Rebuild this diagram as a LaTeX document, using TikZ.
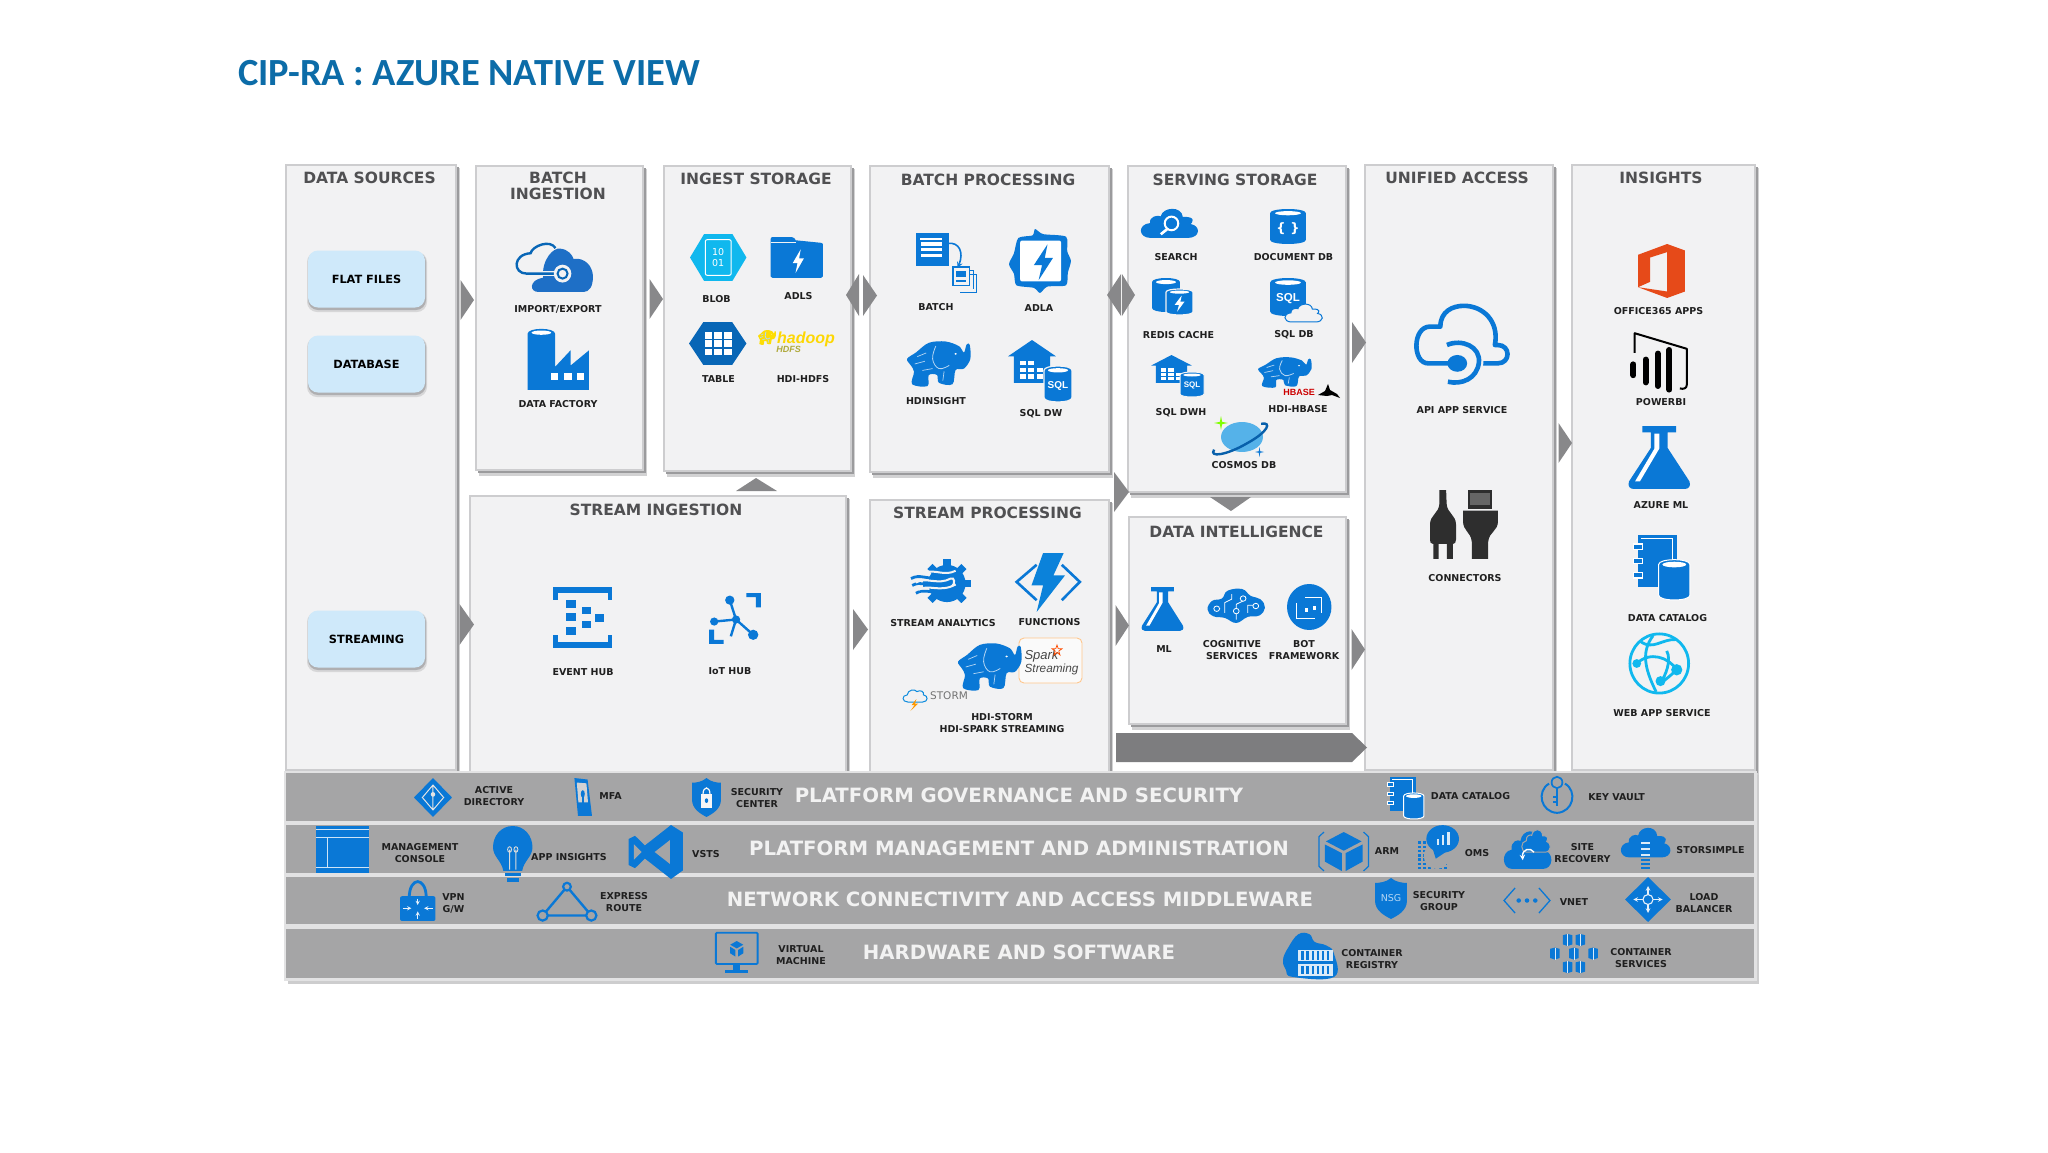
\documentclass[tikz,border=0pt]{standalone}
\usepackage{fontspec}
\setmainfont{DejaVu Sans}
\newfontfamily\titlef{Carlito}
\newfontfamily\libsf{Liberation Sans}
\definecolor{azb}{HTML}{0A78D6}
\definecolor{azd}{HTML}{1E6FC6}
\definecolor{cyanb}{HTML}{10B8EE}
\definecolor{pf}{HTML}{F2F2F3}
\definecolor{pedge}{HTML}{CDCDCF}
\definecolor{shad}{HTML}{9B9B9D}
\definecolor{bandc}{HTML}{A5A5A6}
\definecolor{bandgap}{HTML}{E2E2E3}
\definecolor{chev}{HTML}{88888A}
\definecolor{bigchev}{HTML}{7D7D7F}
\definecolor{headc}{HTML}{505052}
\definecolor{srcbox}{HTML}{CFE9FA}
\definecolor{titlec}{HTML}{0C6CA8}
\definecolor{officec}{HTML}{E64A19}
\tikzset{
 panelbox/.style={draw=pedge,line width=1.6pt,fill=pf,inner sep=0pt,outer sep=0pt},
 srcnode/.style={fill=srcbox,rounded corners=10pt,inner sep=0pt,minimum width=117pt,minimum height=57pt,font=\fontsize{11.3}{13}\selectfont\bfseries,text=black},
 head/.style={font=\fontsize{15.5}{16.5}\selectfont\bfseries,text=headc,align=center,inner sep=0pt},
 lab/.style={font=\fontsize{9.5}{12}\selectfont\bfseries,text=black!88,align=center,inner sep=0pt},
 bandtext/.style={font=\fontsize{19.7}{22}\selectfont\bfseries,text=white!95!black,inner sep=0pt},
 chevron/.style={fill=chev},
}
\newcommand\icon[6][azb]{\pgfmathsetmacro\icw{(#4-#2)*0.01}\pgfmathsetmacro\ich{(#5-#3)*0.01}%
 \begin{scope}[shift={(#2,#3)},x=\icw pt,y={-\ich pt},color=#1]#6\end{scope}}
\newcommand\panel[5]{\pgfmathsetmacro\pw{#4-#2}\pgfmathsetmacro\ph{#5-#3}\pgfmathsetmacro\pcx{(#4+#2)/2}\pgfmathsetmacro\pcy{(#5+#3)/2}%
 \fill[shad!45] (#2+3,#3+3) rectangle (#4+4,#5+6);
 \fill[shad] (#2+2,#3+2) rectangle (#4+2.5,#5+3);
 \node[panelbox,minimum width=\pw pt,minimum height=\ph pt] (#1) at (\pcx,\pcy) {};}
\newcommand\src[4]{\fill[shad!40,rounded corners=10pt] (307,#3-27) rectangle (427,#3+33);
 \fill[shad!80,rounded corners=10pt] (308,#3-27) rectangle (426,#3+31);
 \node[srcnode] (#1) at (366.5,#3) {#4};}
\def\cldp{(20,100) .. controls (-5,100) and (-7,58) .. (18,55) .. controls (18,25) and (50,15) .. (58,35) .. controls (72,22) and (90,35) .. (85,55) .. controls (107,60) and (105,100) .. (82,100) -- cycle}
\def\cldq{(18,100) .. controls (-6,100) and (-6,55) .. (16,52) .. controls (14,30) and (30,25) .. (35,30) .. controls (38,0) and (72,-5) .. (74,32) .. controls (100,30) and (90,52) .. (88,55) .. controls (106,60) and (106,100) .. (82,100) -- cycle}
\def\boltp{(62,0) -- (22,58) -- (46,58) -- (36,100) -- (78,38) -- (54,38) -- cycle}
\def\hexp{(0,50) -- (25,0) -- (75,0) -- (100,50) -- (75,100) -- (25,100) -- cycle}
\def\shieldp{(50,0) .. controls (65,10) and (85,12) .. (100,12) -- (100,55) .. controls (100,80) and (70,92) .. (50,100) .. controls (30,92) and (0,80) .. (0,55) -- (0,12) .. controls (15,12) and (35,10) .. (50,0) -- cycle}
\def\cylp{(0,12) .. controls (0,-4) and (100,-4) .. (100,12) -- (100,88) .. controls (100,104) and (0,104) .. (0,88) -- cycle}
\newcommand\Cyl{\fill \cylp; \fill[white] (50,12) ellipse[x radius=36,y radius=6];}
\newcommand\Flask{\fill (22,0) -- (78,0) -- (78,10) -- (64,10) -- (64,35) -- (100,88) .. controls (103,96) and (98,100) .. (92,100) -- (8,100) .. controls (2,100) and (-3,96) .. (0,88) -- (36,35) -- (36,10) -- (22,10) -- cycle;
 \fill[white] (42,12) -- (50,12) -- (50,36) -- (18,88) -- (10,88) -- (42,36) -- cycle;}
\newcommand\House{\fill (50,0) -- (100,38) -- (88,38) -- (88,100) -- (12,100) -- (12,38) -- (0,38) -- cycle;
 \foreach \xa/\ya in {24/48,42/48,24/64,42/64,60/64,24/80,42/80,60/80}{\fill[white] (\xa,\ya) rectangle ++(13,11);}}
\newcommand\Elephant{\fill plot[smooth cycle,tension=.55] coordinates {(0,39)(14,25)(34,4)(60,1)(81,11)(89,25)(93,8)(98,8)(99,39)(89,60)(76,63)(71,94)(50,91)(47,74)(34,74)(32,98)(8,94)(11,67)(6,53)};
 \draw[white!70!azb,line width=.8pt] plot[smooth,tension=.7] coordinates {(45,11)(40,39)(50,60)(66,53)};
 \draw[white!70!azb,line width=.7pt] (16,34) -- (30,26) (12,50) -- (28,44) (24,64) -- (40,60) (58,66) -- (56,86);
 \fill[white] (76,28) circle[radius=2];}
\newcommand\DCat{\fill (8,0) rectangle (78,80);
 \draw[white,line width=.9pt] (14,6) -- (70,6) -- (70,38);
 \foreach \ya in {18,40,62}{\fill[white] (0,\ya-5) rectangle (18,\ya+5); \fill (2,\ya-3) rectangle (16,\ya+3);}
 \begin{scope}[shift={(45,38)},xscale=.55,yscale=.62]
 \draw[white,line width=1pt,fill=azb] \cylp; \fill[white] (50,12) ellipse[x radius=38,y radius=7];
 \end{scope}}
\begin{document}
\begin{tikzpicture}[x=1pt,y=-1pt]
\useasboundingbox (0,0) rectangle (2048,1152);
\fill[white] (0,0) rectangle (2048,1152);
\node[font=\fontsize{38.4}{40}\selectfont\titlef\bfseries,text=titlec,anchor=west,inner sep=0pt] (title) at (238,73) {CIP-RA : AZURE NATIVE VIEW};

% panels
\panel{ds}{286}{165}{456}{770}
\panel{bi}{476}{166}{643}{470}
\panel{is}{664}{166}{851}{471}
\panel{bp}{870}{166}{1109}{472}
\panel{ss}{1128}{166}{1346}{492}
\panel{ua}{1365}{165}{1553}{770}
\panel{in}{1572}{165}{1755}{770}
\panel{si}{470}{496}{846}{772}
\panel{sp}{870}{500}{1109}{772}
\panel{di}{1129}{517}{1346}{724}

% chevrons
\fill[chevron] (460.5,280) -- (474,300) -- (460.5,320) -- cycle;
\fill[chevron] (649.5,279) -- (663,299) -- (649.5,319) -- cycle;
\fill[chevron] (859,274) -- (846,295) -- (859,316) -- cycle;
\fill[chevron] (863,275) -- (877,295.5) -- (863,316) -- cycle;
\fill[chevron] (1121,274) -- (1107,295) -- (1121,316) -- cycle;
\fill[chevron] (1122,274) -- (1135,295) -- (1122,316) -- cycle;
\fill[chevron] (1352,322) -- (1366,342.5) -- (1352,363) -- cycle;
\fill[chevron] (1558.5,423) -- (1572,443) -- (1558.5,463) -- cycle;
\fill[chevron] (736,491) -- (756,478) -- (777,491) -- cycle;
\fill[chevron] (1114,472) -- (1129,492) -- (1114,512) -- cycle;
\fill[chevron] (1210,497) -- (1251,497) -- (1231,511) -- cycle;
\fill[chevron] (459.5,604) -- (474,624.5) -- (459.5,645) -- cycle;
\fill[chevron] (853,609) -- (868,629.5) -- (853,650) -- cycle;
\fill[chevron] (1115.5,605) -- (1129,625.5) -- (1115.5,646) -- cycle;
\fill[chevron] (1351.5,629) -- (1365,649.5) -- (1351.5,670) -- cycle;
\fill[bigchev] (1116,733) -- (1352,733) -- (1367,747.5) -- (1352,762) -- (1116,762) -- cycle;

% sources
\src{ff}{}{279}{FLAT FILES}
\src{db}{}{364}{DATABASE}
\src{st}{}{639}{STREAMING}

% headings
\node[head] (h1) at (369.5,178) {DATA SOURCES};
\node[head] (h2) at (558,186) {BATCH\\INGESTION};
\node[head] (h3) at (756,179) {INGEST STORAGE};
\node[head] (h4) at (988,180) {BATCH PROCESSING};
\node[head] (h5) at (1235,180) {SERVING STORAGE};
\node[head] (h6) at (1457,178) {UNIFIED ACCESS};
\node[head] (h7) at (1661,178) {INSIGHTS};
\node[head] (h8) at (656,510) {STREAM INGESTION};
\node[head] (h9) at (987.5,513) {STREAM PROCESSING};
\node[head] (h10) at (1236.5,532) {DATA INTELLIGENCE};

% bands
\fill[shad!50] (288,775) rectangle (1759,984);
\fill[bandgap] (284,771) rectangle (1757,981);
\node[fill=bandc,inner sep=0pt,minimum width=1468pt,minimum height=48pt] (b1) at (1020,797) {};
\node[fill=bandc,inner sep=0pt,minimum width=1468pt,minimum height=48pt] (b2) at (1020,849) {};
\node[fill=bandc,inner sep=0pt,minimum width=1468pt,minimum height=47pt] (b3) at (1020,900.5) {};
\node[fill=bandc,inner sep=0pt,minimum width=1468pt,minimum height=49pt] (b4) at (1020,953.5) {};
\node[bandtext] (t1) at (1019,795) {PLATFORM GOVERNANCE AND SECURITY};
\node[bandtext] (t2) at (1019,848) {PLATFORM MANAGEMENT AND ADMINISTRATION};
\node[bandtext] (t3) at (1020,899) {NETWORK CONNECTIVITY AND ACCESS MIDDLEWARE};
\node[bandtext] (t4) at (1019,952) {HARDWARE AND SOFTWARE};

% ---- labels
\foreach \lx/\ly/\lt in {
 558/309/IMPORT\slash EXPORT, 558/404/DATA FACTORY,
 716.5/299/BLOB, 798.5/296/ADLS, 718.5/379/TABLE, 803/379/HDI-HDFS,
 936/307/BATCH, 1039/308/ADLA, 936/401/HDINSIGHT, 1041/414/SQL DW,
 1176/257/SEARCH, 1293.5/257/DOCUMENT DB, 1178.5/335/REDIS CACHE, 1294/335/SQL DB,
 1181/413/SQL DWH, 1298/409/HDI-HBASE, 1244/465/COSMOS DB,
 1462/410/API APP SERVICE, 1465/578/CONNECTORS,
 1658.5/311/OFFICE365 APPS, 1661/402/POWERBI, 1661/505/AZURE ML, 1667.5/618/DATA CATALOG, 1662/713/WEB APP SERVICE,
 583/672/EVENT HUB, 730/671/IoT HUB, 943/623/STREAM ANALYTICS, 1049.5/622/FUNCTIONS,
 1002/723/HDI-STORM\\HDI-SPARK STREAMING, 1164/649/ML, 1232/650/COGNITIVE\\SERVICES, 1304/650/BOT\\FRAMEWORK,
 494/796/ACTIVE\\DIRECTORY, 610.5/796/MFA, 757/798/SECURITY\\CENTER, 1470.5/796/DATA CATALOG, 1616.5/797/KEY VAULT,
 420/853/MANAGEMENT\\CONSOLE, 569/857/APP INSIGHTS, 706/854/VSTS, 1387/851/ARM, 1477/853/OMS, 1582.5/853/SITE\\RECOVERY, 1710.5/850/STORSIMPLE,
 453.5/903/VPN\\G\slash W, 624/902/EXPRESS\\ROUTE, 1439/901/SECURITY\\GROUP, 1574/902/VNET, 1704/903/LOAD\\BALANCER,
 801/955/VIRTUAL\\MACHINE, 1372/959/CONTAINER\\REGISTRY, 1641/958/CONTAINER\\SERVICES}{
 \node[lab] at (\lx,\ly) {\lt};
}

% ---- icons
% import/export
\icon[azd]{515}{241}{593}{292}{
 \fill (30,100) .. controls (18,100) and (18,76) .. (36,72) .. controls (34,35) and (50,12) .. (58,15) .. controls (68,16) and (74,28) .. (75,35) .. controls (90,32) and (100,50) .. (100,70) .. controls (100,90) and (95,100) .. (88,100) -- cycle;
 \draw[pf,line width=4.6pt] (15,64) -- (52,64);
 \draw[pf,line width=5pt] (52,14) .. controls (47,6) and (42,4) .. (38,4);
 \draw[azb!85!black,line width=2.4pt] (52,14) .. controls (45,-4) and (22,10) .. (20,24) .. controls (-3,26) and (-3,64) .. (15,64) -- (54,64);
 \draw[pf,line width=5pt] (61,64) ellipse[x radius=8,y radius=12.5];
 \draw[azb!85!black,line width=2pt,fill=pf] (61,64) ellipse[x radius=6.4,y radius=9.8];
}
% data factory
\icon{527.5}{329}{589}{390}{
 \fill (0,8) .. controls (0,-3) and (45,-3) .. (45,8) -- (45,62) -- (70,35) -- (70,60) -- (100,35) -- (100,100) -- (0,100) -- cycle;
 \fill[white] (22.5,6) ellipse[x radius=16,y radius=3.5];
 \fill[white] (38,72) rectangle (50,84); \fill[white] (60,72) rectangle (72,84); \fill[white] (80,72) rectangle (92,84);
}
% blob
\icon[cyanb]{690}{234}{746.5}{281}{
 \fill \hexp; \draw[white,line width=1pt,rounded corners=2pt] (27,12) rectangle (73,88);
 \node[white,font=\fontsize{9.5}{11}\selectfont,align=center,inner sep=0pt] at (50,50) {10\\01};
}
% adls
\icon{770.5}{237}{823}{278}{
 \fill (0,6) .. controls (0,2) and (2,0) .. (4,0) -- (40,0) .. controls (44,0) and (47,4) .. (48,8) -- (95,14) .. controls (98,14) and (100,16) .. (100,18) -- (100,96) -- (96,100) -- (4,100) -- (0,96) -- cycle;
 \draw[pf,line width=.7pt] (0,12) -- (48,12);
 \begin{scope}[shift={(34,30)},xscale=.38,yscale=.58]\fill[white] \boltp;\end{scope}
}
% table
\icon[azb!85!black]{689}{322}{746.5}{365}{
 \fill \hexp;
 \foreach \xa in {27,44,61}{\foreach \ya in {24,43,62}{\fill[white] (\xa,\ya) rectangle ++(13,15);}}
}
% hadoop
\icon[yellow!80!orange]{758}{330}{776}{345}{\Elephant}
\node[font=\fontsize{16}{17}\selectfont\libsf\bfseries\itshape,text=yellow!75!orange,inner sep=0pt] (hadoopt) at (806,339) {hadoop};
\node[font=\fontsize{9}{10}\selectfont\libsf\bfseries\itshape,text=yellow!65!black,inner sep=0pt] (hdfst) at (788.5,349) {HDFS};
% batch
\icon{916}{233}{949}{266}{
 \fill (0,0) rectangle (100,100); \foreach \ya in {28,46,64}{\fill[white] (14,\ya) rectangle (78,\ya+10);}
 \fill[white] (12,14) rectangle (80,20);
}
\icon{948}{242}{964}{268}{\draw[line width=1.6pt,->,>=stealth] (0,5) .. controls (70,0) and (100,40) .. (60,100);}
\icon{953}{267}{977}{293}{
 \fill[pf] (0,0) rectangle (100,100);
 \draw[line width=1pt] (30,30) -- (100,30) -- (100,100) -- (30,100);
 \draw[line width=1pt] (15,15) -- (85,15) -- (85,85);
 \draw[line width=1.4pt,fill=pf] (0,0) rectangle (68,72);
 \fill (12,14) rectangle (56,38); \fill (12,50) rectangle (56,58);
}
% adla
\icon{1009}{229}{1071}{293}{
 \fill plot[smooth cycle,tension=.4] coordinates {(15,14)(38,10)(42,0)(55,8)(92,12)(94,35)(100,50)(95,68)(92,88)(62,90)(50,100)(40,92)(12,88)(8,70)(0,55)(8,38)};
 \fill[white,rounded corners=2pt] (18,18) rectangle (84,82);
 \begin{scope}[shift={(28,24)},xscale=.55,yscale=.56]\fill \boltp;\end{scope}
}
% hdinsight
\icon{907}{341}{971}{387}{\Elephant}
% sql dw
\icon{1008}{340}{1056}{383}{\House}
\icon{1044}{366}{1072}{402}{\draw[pf,line width=1.2pt,fill=azb] \cylp; \fill[white] (50,12) ellipse[x radius=36,y radius=6];
 \node[white,font=\fontsize{10}{11}\selectfont\libsf\bfseries,inner sep=0pt] at (50,55) {SQL};}
% search
\icon{1141}{207}{1197.5}{238}{\fill \cldq;
 \draw[white,line width=2pt] (54,53) ellipse[x radius=12,y radius=22]; \draw[white,line width=2.6pt] (46,72) -- (35,88);}
% document db
\icon{1270}{209}{1306}{244}{\Cyl \node[white,font=\fontsize{13}{14}\selectfont\bfseries,inner sep=0pt] at (50,56) {\{ \}};}
% redis
\icon{1152}{278}{1180}{312}{\Cyl}
\icon{1166}{289}{1193}{315}{\draw[pf,line width=1.2pt,fill=azb] \cylp; \fill[white] (50,12) ellipse[x radius=36,y radius=6];
 \begin{scope}[shift={(18,25)},xscale=.65,yscale=.62]\fill[white] \boltp;\end{scope}}
% sql db
\icon{1270}{278}{1306}{316}{\Cyl \node[white,font=\fontsize{11.5}{12}\selectfont\libsf\bfseries,inner sep=0pt] at (50,54) {SQL};}
\icon{1285}{303}{1322}{322}{\draw[line width=1pt,fill=pf] \cldq;}
% sql dwh
\icon{1151}{355}{1192}{383}{\House}
\icon{1180}{372}{1204}{397}{\draw[pf,line width=1pt,fill=azb] \cylp; \fill[white] (50,12) ellipse[x radius=36,y radius=6];
 \node[white,font=\fontsize{8}{9}\selectfont\libsf\bfseries,inner sep=0pt] at (50,55) {SQL};}
% hbase
\icon{1258}{357}{1312}{388}{\Elephant}
\node[font=\fontsize{9}{10}\selectfont\libsf\bfseries,text=red!80!black,inner sep=0pt] (hbaset) at (1299,392) {HBASE};
\fill[black] (1318,395) -- (1325,391) -- (1328,384) -- (1330,390) -- (1337,394) -- (1340,398) -- (1332,395) -- (1327,396) -- cycle;
% cosmos
\icon[azb!60!cyanb!70!white]{1221}{422}{1263}{452}{\fill (50,50) ellipse[x radius=50,y radius=50];}
\icon[azb!80!black]{1213}{420}{1269}{458}{\draw[line width=2.4pt] (86,10) .. controls (105,4) and (100,30) .. (60,62) .. controls (25,92) and (-8,100) .. (2,78);}
\icon[green!50!yellow]{1214}{416}{1228}{430}{\fill (50,0) -- (58,42) -- (100,50) -- (58,58) -- (50,100) -- (42,58) -- (0,50) -- (42,42) -- cycle;}
\icon{1255}{447}{1264}{457}{\fill (50,0) -- (58,42) -- (100,50) -- (58,58) -- (50,100) -- (42,58) -- (0,50) -- (42,42) -- cycle;}
% api
\icon{1415}{305}{1509}{385}{
 \draw[line width=4.6pt,line join=round] (39,73) -- (14,73) .. controls (-3,73) and (-3,27) .. (16,27) -- (27,27) .. controls (27,8) and (40,1) .. (52,1) .. controls (72,1) and (90,20) .. (85,50) -- (88,50) .. controls (102,50) and (102,73) .. (88,73) -- (66,73);
 \draw[pf,line width=9pt] (34,50) .. controls (50,42) and (70,52) .. (68,72) .. controls (66,92) and (50,100) .. (35,96);
 \draw[line width=4.6pt] (34,50) .. controls (50,42) and (70,52) .. (68,72) .. controls (66,92) and (50,100) .. (35,96);
 \fill (45,73) circle[radius=10.5];
}
% connectors
\icon[black!82]{1430}{490}{1456}{559}{
 \fill (36,0) -- (62,0) -- (64,20) .. controls (66,34) and (100,36) .. (100,50) -- (100,72) .. controls (100,76) and (95,78) .. (90,78) -- (88,78) -- (88,100) -- (65,100) -- (65,78) -- (33,78) -- (33,100) -- (13,100) -- (13,78) -- (10,78) .. controls (3,78) and (0,76) .. (0,72) -- (0,50) .. controls (0,36) and (34,34) .. (36,20) -- cycle;
}
\icon[black!82]{1463}{490}{1498}{559}{
 \fill (15,0) rectangle (84,27);
 \fill[black!60] (21,5) rectangle (78,22);
 \fill (0,30) -- (100,30) -- (100,45) .. controls (100,60) and (75,60) .. (72,75) -- (72,100) -- (25,100) -- (25,75) .. controls (22,60) and (0,60) .. (0,45) -- cycle;
}
% office
\icon[officec]{1638}{244}{1685}{298}{
 \fill (0,20) -- (62,0) -- (100,12) -- (100,88) -- (62,100) -- (0,80) -- (62,88) -- (62,15) -- (26,25) -- (26,70) -- (0,80) -- cycle;
}
% powerbi
\icon[black]{1630}{332}{1688}{392}{
 \draw[line width=2pt,line join=round] (8,35) -- (8,2) -- (98,28) -- (98,88) .. controls (98,94) and (92,96) .. (86,94);
 \draw[line width=6pt,line cap=round] (6,54) -- (6,72) (27,46) -- (27,84) (48,36) -- (48,90) (68,30) -- (68,96);
}
% azure ml
\icon{1629}{426}{1689.5}{489}{\Flask}
% data catalog
\icon{1633}{535}{1690}{600}{\DCat}
% web app
\icon[cyanb]{1628}{632}{1690.5}{695}{
 \draw[line width=2.8pt] (50,50) circle[radius=47];
 \draw[line width=2.8pt] (20,15) .. controls (40,30) and (55,10) .. (78,12) (14,50) .. controls (35,30) and (65,40) .. (78,60) .. controls (65,72) and (55,80) .. (52,80) (40,6) .. controls (22,30) and (25,55) .. (45,95) (62,30) .. controls (70,45) and (60,70) .. (52,80);
 \fill (14,50) circle[radius=7]; \fill (78,60) circle[radius=9]; \fill (52,78) circle[radius=8];
}
% ml
\icon{1142}{587}{1183}{631}{\Flask}
% cognitive
\icon{1207.5}{589}{1265}{623}{
 \fill plot[smooth cycle,tension=.7] coordinates {(0,60)(8,35)(25,28)(35,5)(60,0)(75,20)(92,30)(100,55)(90,78)(70,82)(50,100)(30,85)(10,80)};
 \draw[white,line width=.8pt] (30,70) -- (30,40) -- (42,30) -- (42,15) (50,90) -- (50,45) (50,45) -- (62,35) (70,70) -- (70,48) -- (88,48) (14,58) -- (22,58);
 \draw[white,line width=.8pt,fill=azb] (16,58) ellipse[x radius=5,y radius=8] (62,28) ellipse[x radius=5,y radius=8] (50,65) ellipse[x radius=5,y radius=8] (84,50) ellipse[x radius=5,y radius=8];
}
% bot
\icon{1287}{584}{1331.5}{630}{
 \fill (50,50) circle[radius=50];
 \draw[white,line width=1.1pt] (22,42) -- (22,75) -- (62,75) (40,30) -- (78,30) -- (78,62);
 \fill[white] (40,52) rectangle (47,60); \fill[white] (58,48) rectangle (65,56);
}
% event hub
\icon{553}{587}{612.5}{648}{
 \fill (0,0) rectangle (100,10); \fill (0,10) rectangle (8,22); \fill (92,10) rectangle (100,22);
 \fill (0,90) rectangle (100,100); \fill (0,78) rectangle (8,90); \fill (92,78) rectangle (100,90);
 \foreach \xa/\ya in {22/22,22/43,22/66,48/33,48/55,70/45}{\fill (\xa,\ya) rectangle ++(16,12);}
}
% iot
\icon{709}{593}{761}{644}{
 \fill (72,0) -- (100,0) -- (100,28) -- (90,28) -- (90,8) -- (72,8) -- cycle;
 \fill (0,72) -- (10,72) -- (10,92) -- (28,92) -- (28,100) -- (0,100) -- cycle;
 \draw[line width=2.4pt] (40,14) -- (52,52) -- (10,56) (52,52) -- (85,82) (52,52) -- (42,85);
 \fill (40,14) circle[radius=9]; \fill (10,56) circle[radius=8]; \fill (85,82) circle[radius=10]; \fill (52,52) circle[radius=8];
}
% gear
\icon{911}{558}{973}{607}{
 \fill (58,52) ellipse[x radius=30,y radius=38];
 \foreach \a in {-90,-45,0,45,90,135,225,-135}{\fill[shift={(58,52)},rotate=\a] (-3.6pt,14pt) rectangle (3.6pt,24pt);}
 \draw[azb,line width=2.8pt] (0,42) .. controls (14,32) and (26,44) .. (40,40) (2,56) .. controls (16,46) and (26,58) .. (40,54) (8,72) .. controls (20,62) and (30,72) .. (42,68);
 \draw[pf,line width=2pt] (8,50) .. controls (24,38) and (44,56) .. (64,42) .. controls (70,38) and (72,52) .. (66,58);
 \draw[pf,line width=2pt] (12,65) .. controls (28,52) and (46,72) .. (72,54);
 \draw[pf,line width=2pt] (22,30) .. controls (38,22) and (54,38) .. (72,26);
}
% functions
\icon{1016}{553}{1080.5}{612}{
 \draw[line width=2.6pt] (32,20) -- (1,49) -- (32,80) (71,20) -- (99,49) -- (71,80);
 \fill[azb!85!cyanb] (42,0) -- (74,0) -- (58,38) -- (76,38) -- (32,100) -- (42,55) -- (24,55) -- cycle;
}
% spark
\node[draw=orange!45,fill=white!60!pf,line width=.9pt,rounded corners=5pt,minimum width=63pt,minimum height=45pt,inner sep=0pt] (spark) at (1050.5,660.5) {};
\node[font=\fontsize{13}{14}\selectfont\libsf\itshape,text=black!72,inner sep=0pt] (sparkt) at (1041.5,656.5) {Spark};
\node[font=\fontsize{11.8}{13}\selectfont\libsf\itshape,text=black!72,inner sep=0pt] (streamt) at (1051.5,669.5) {Streaming};
\icon[orange!60!red]{1052}{645}{1062}{655}{\draw[line width=.7pt] (50,0) -- (62,36) -- (100,38) -- (68,60) -- (80,100) -- (50,74) -- (20,100) -- (32,60) -- (0,38) -- (38,36) -- cycle;}
\icon{958}{643}{1022}{691}{\Elephant}
% storm
\icon[azb!70!cyanb]{903}{686}{927}{702}{\draw[line width=1pt] \cldp;}
\icon[orange!80!yellow]{908}{699}{920}{711}{\fill (70,0) -- (30,50) -- (55,50) -- (20,100) -- (85,38) -- (58,38) -- cycle;}
\node[font=\fontsize{10.5}{12}\selectfont,text=black!55,inner sep=0pt] (stormt) at (949,696) {STORM};

% ---- band icons
% active directory
\icon{414}{778}{452}{817}{
 \fill (50,0) -- (100,50) -- (50,100) -- (0,50) -- cycle;
 \draw[bandc!30!white,line width=1pt] (50,18) -- (78,50) -- (50,82) -- (22,50) -- cycle (50,18) -- (50,82);
 \fill[bandc!30!white] (50,42) circle[radius=6];
}
% mfa
\icon{572}{778}{592}{816}{
 \fill (12,0) -- (78,4) -- (100,100) -- (30,100) -- cycle;
 \fill[bandc!50!white] (24,12) -- (72,14) -- (80,64) -- (32,64) -- cycle;
 \fill (54,42) circle[radius=10]; \fill (50,42) rectangle (60,78);
}
% security center
\icon{692}{778}{721}{817}{
 \fill \shieldp;
 \fill[white!90!bandc] (30,42) rectangle (70,76);
 \draw[white!90!bandc,line width=1.2pt] (38,42) .. controls (38,20) and (62,20) .. (62,42);
 \fill (50,58) circle[radius=6];
}
% data catalog band
\icon{1387}{777}{1424}{819}{\DCat}
% key vault
\icon{1539}{776}{1575}{814}{
 \draw[line width=2pt] (28,20) .. controls (-8,40) and (5,95) .. (50,97) .. controls (95,95) and (108,40) .. (72,20);
 \draw[line width=1.7pt] (50,17) circle[radius=15];
 \draw[line width=2.2pt] (50,32) -- (50,78) (50,55) -- (38,55) (50,68) -- (38,68);
}
% management console
\icon{316}{826}{369}{873}{
 \fill (0,0) rectangle (100,100);
 \draw[white!80!azb,line width=.9pt] (0,8) -- (100,8) (0,25) -- (100,25) (0,88) -- (100,88) (22,25) -- (22,88);
}
% app insights
\icon{493}{826}{532.5}{882}{
 \fill (50,0) .. controls (80,0) and (100,18) .. (100,38) .. controls (100,55) and (78,62) .. (74,80) -- (26,80) .. controls (22,62) and (0,55) .. (0,38) .. controls (0,18) and (20,0) .. (50,0) -- cycle;
 \fill (30,84) rectangle (70,90); \fill (35,93) rectangle (65,100);
 \draw[bandc!40!white,line width=.9pt] (42,78) -- (42,42) (58,78) -- (58,42) (42,42) circle[radius=5] (58,42) circle[radius=5];
}
% vsts
\icon{628.5}{825}{683}{879}{
 \fill (78,0) -- (100,14) -- (100,84) -- (78,100) -- (30,62) -- (12,80) -- (0,74) -- (0,26) -- (12,20) -- (30,38) -- cycle;
 \fill[bandc] (76,28) -- (48,50) -- (76,72) -- cycle;
 \fill[bandc] (10,36) -- (24,50) -- (10,64) -- cycle;
}
% arm
\icon{1319}{832}{1368.5}{871}{
 \draw[line width=1.2pt] (10,0) -- (0,12) -- (0,88) -- (10,100) (90,0) -- (100,12) -- (100,88) -- (90,100);
 \fill (50,0) -- (86,24) -- (50,48) -- (14,24) -- cycle;
 \fill (12,32) -- (46,54) -- (46,100) -- (12,76) -- cycle;
 \fill (88,32) -- (54,54) -- (54,100) -- (88,76) -- cycle;
}
% oms
\icon{1416}{826}{1459}{869}{
 \foreach \xa in {5,17,...,65}{\foreach \ya in {55,65,75,85,95}{\fill (\xa,\ya) rectangle ++(7,6);}}
 \foreach \ya in {36,46}{\fill (5,\ya) rectangle ++(7,6); \fill (17,\ya) rectangle ++(7,6);}
 \fill[bandc] (48,70) circle[radius=30];
 \fill (62,30) ellipse[x radius=38,y radius=32]; \fill (30,25) -- (70,60) -- (46,76) -- cycle;
 \fill[white!85!azb] (48,30) rectangle (54,44); \fill[white!85!azb] (60,22) rectangle (66,44); \fill[white!85!azb] (72,15) rectangle (78,44);
}
% site recovery
\icon{1504}{829}{1551}{869}{
 \fill \cldq;
 \begin{scope}[shift={(38,-2)},xscale=.6,yscale=.6]\draw[bandc,line width=1pt,fill=azb] \cldq;\end{scope}
 \draw[white,line width=1.4pt,->,>=stealth] (64,58) .. controls (56,45) and (38,50) .. (40,78);
}
% storsimple
\icon{1621}{826}{1670}{868}{
 \begin{scope}[yscale=.75]\fill \cldq;\end{scope}
 \foreach \ya in {38,52,66}{\fill[white!85!azb] (40,\ya) rectangle (60,\ya+6);}
 \foreach \ya in {78,88,97}{\fill (40,\ya) rectangle (60,\ya+5);}
}
% vpn
\icon{400}{881}{435.5}{921}{
 \draw[line width=2.8pt] (26,42) .. controls (26,-12) and (74,-12) .. (74,42);
 \fill[rounded corners=2pt] (0,38) rectangle (100,100);
 \draw[white!90!azb,line width=.9pt,->,>=stealth] (8,68) -- (32,68);
 \draw[white!90!azb,line width=.9pt,->,>=stealth] (92,68) -- (68,68);
 \draw[white!90!azb,line width=.9pt,->,>=stealth] (50,44) -- (50,60);
 \draw[white!90!azb,line width=.9pt,->,>=stealth] (50,94) -- (50,76);
}
% express route
\icon{535}{882}{599}{921}{
 \draw[line width=2.4pt] (50,12) -- (12,86) -- (88,86) -- cycle;
 \draw[line width=2.2pt,fill=bandc] (50,12) ellipse[x radius=6,y radius=10] (12,86) ellipse[x radius=8,y radius=13] (88,86) ellipse[x radius=8,y radius=13];
}
% vm
\icon{715}{932}{758.5}{973}{
 \draw[line width=1.8pt,rounded corners=1pt] (2,2) rectangle (98,78);
 \fill (42,78) rectangle (58,92); \fill (24,92) rectangle (76,100);
 \fill (50,22) -- (65,31) -- (50,40) -- (35,31) -- cycle;
 \fill (35,36) -- (47,44) -- (47,60) -- (35,52) -- cycle;
 \fill (65,36) -- (53,44) -- (53,60) -- (65,52) -- cycle;
}
% nsg
\icon{1375}{878}{1407}{919}{
 \fill \shieldp;
 \node[font=\fontsize{9.5}{11}\selectfont,text=white!70!azb,inner sep=0pt] at (50,48) {NSG};
}
% vnet
\icon{1504}{888}{1550}{913}{
 \draw[line width=1.3pt] (24,0) -- (0,50) -- (24,100) (76,0) -- (100,50) -- (76,100);
 \foreach \xa in {32,50,68}{\fill (\xa,50) ellipse[x radius=5,y radius=9];}
}
% load balancer
\icon{1625}{877}{1671}{922}{
 \fill (50,0) -- (100,50) -- (50,100) -- (0,50) -- cycle;
 \draw[white!90!azb,line width=1.1pt,<->,>=stealth] (50,20) -- (50,80);
 \draw[white!90!azb,line width=1.1pt,<->,>=stealth] (18,50) -- (82,50);
 \draw[white!90!azb,line width=1.1pt,fill=azb] (50,50) circle[radius=11];
}
% container registry
\icon{1283}{932}{1334}{977}{
 \fill plot[smooth cycle,tension=.7] coordinates {(0,62)(10,35)(30,5)(52,5)(62,22)(85,30)(100,48)(100,100)(20,100)(6,85)};
 \foreach \ya in {40,72}{\fill[white!85!azb] (30,\ya) rectangle (98,\ya+25);
  \foreach \xa in {36,46,56,66,76,86}{\fill (\xa,\ya+3) rectangle ++(5,19);}}
}
% container services
\icon{1548}{934}{1601}{974}{
 \foreach \xa/\ya in {28/0,52/0,4/34,40/34,76/34,28/68,52/68}{
  \fill (\xa,\ya+3) -- (\xa+9,\ya) -- (\xa+18,\ya+3) -- (\xa+18,\ya+26) -- (\xa+9,\ya+30) -- (\xa,\ya+26) -- cycle;
  \draw[white!85!azb,line width=.6pt] (\xa+9,\ya) -- (\xa+9,\ya+30);}
}
\end{tikzpicture}
\end{document}
